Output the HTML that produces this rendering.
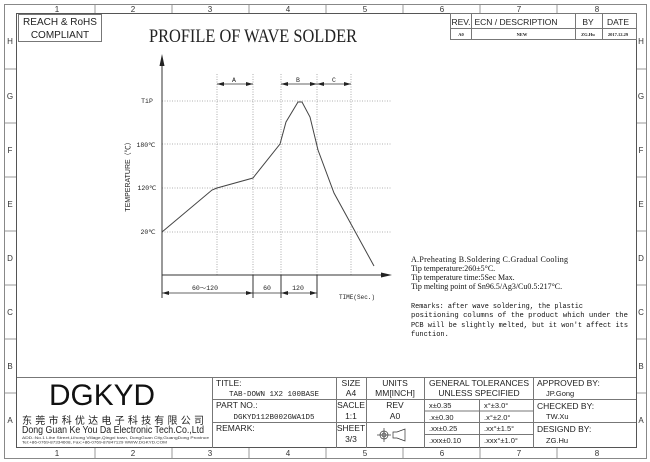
<!DOCTYPE html>
<html><head><meta charset="utf-8"><style>
html,body{margin:0;padding:0;background:#fff;}
svg{display:block}
.s{font-family:"Liberation Sans","Noto Sans CJK SC",sans-serif;}
.r{font-family:"Liberation Serif","Noto Serif CJK SC",serif;}
.m{font-family:"Liberation Mono",monospace;}
</style></head><body>
<svg width="650" height="462" viewBox="0 0 650 462" xmlns="http://www.w3.org/2000/svg">
<rect x="0" y="0" width="650" height="462" fill="#fff"/>
<g fill="none" stroke="#888" stroke-width="1">
<rect x="4.5" y="4.5" width="642" height="454"/>
<rect x="16.5" y="13.5" width="620" height="434" stroke="#555"/>
</g>
<g stroke="#999" stroke-width="1">
<line x1="95" y1="5" x2="95" y2="13"/><line x1="172" y1="5" x2="172" y2="13"/><line x1="249" y1="5" x2="249" y2="13"/><line x1="326" y1="5" x2="326" y2="13"/><line x1="403" y1="5" x2="403" y2="13"/><line x1="480" y1="5" x2="480" y2="13"/><line x1="557" y1="5" x2="557" y2="13"/>
<line x1="95" y1="448" x2="95" y2="458"/><line x1="172" y1="448" x2="172" y2="458"/><line x1="249" y1="448" x2="249" y2="458"/><line x1="326" y1="448" x2="326" y2="458"/><line x1="403" y1="448" x2="403" y2="458"/><line x1="480" y1="448" x2="480" y2="458"/><line x1="557" y1="448" x2="557" y2="458"/>
<line x1="5" y1="69" x2="16" y2="69"/><line x1="5" y1="123" x2="16" y2="123"/><line x1="5" y1="177" x2="16" y2="177"/><line x1="5" y1="231" x2="16" y2="231"/><line x1="5" y1="285" x2="16" y2="285"/><line x1="5" y1="339" x2="16" y2="339"/><line x1="5" y1="393" x2="16" y2="393"/>
<line x1="637" y1="69" x2="646" y2="69"/><line x1="637" y1="123" x2="646" y2="123"/><line x1="637" y1="177" x2="646" y2="177"/><line x1="637" y1="231" x2="646" y2="231"/><line x1="637" y1="285" x2="646" y2="285"/><line x1="637" y1="339" x2="646" y2="339"/><line x1="637" y1="393" x2="646" y2="393"/>
</g>
<g class="s" font-size="8" fill="#333" text-anchor="middle">
<text x="57" y="12">1</text><text x="133" y="12">2</text><text x="210" y="12">3</text><text x="288" y="12">4</text><text x="365" y="12">5</text><text x="442" y="12">6</text><text x="519" y="12">7</text><text x="597" y="12">8</text>
<text x="57" y="456">1</text><text x="133" y="456">2</text><text x="210" y="456">3</text><text x="288" y="456">4</text><text x="365" y="456">5</text><text x="442" y="456">6</text><text x="519" y="456">7</text><text x="597" y="456">8</text>
<text x="10" y="44">H</text><text x="10" y="99">G</text><text x="10" y="153">F</text><text x="10" y="207">E</text><text x="10" y="261">D</text><text x="10" y="315">C</text><text x="10" y="369">B</text><text x="10" y="423">A</text>
<text x="641" y="44">H</text><text x="641" y="99">G</text><text x="641" y="153">F</text><text x="641" y="207">E</text><text x="641" y="261">D</text><text x="641" y="315">C</text><text x="641" y="369">B</text><text x="641" y="423">A</text>
</g>
<rect x="18.5" y="14.5" width="83" height="27" fill="none" stroke="#777"/>
<text class="s" x="60" y="25" font-size="10" text-anchor="middle" fill="#222">REACH &amp; RoHS</text>
<text class="s" x="60" y="38" font-size="10" text-anchor="middle" fill="#222">COMPLIANT</text>
<text class="r" x="253" y="42" font-size="19" text-anchor="middle" fill="#222" textLength="208" lengthAdjust="spacingAndGlyphs">PROFILE OF WAVE SOLDER</text>
<g fill="none" stroke="#777"><rect x="450.5" y="13.5" width="186" height="26"/>
<line x1="450" y1="28.5" x2="636" y2="28.5"/><line x1="471.5" y1="14" x2="471.5" y2="40"/><line x1="575.5" y1="14" x2="575.5" y2="40"/><line x1="602.5" y1="14" x2="602.5" y2="40"/></g>
<g class="s" font-size="8.5" fill="#222" text-anchor="middle"><text x="461" y="25">REV.</text><text x="516" y="25">ECN / DESCRIPTION</text><text x="588" y="25">BY</text><text x="618" y="25">DATE</text></g>
<g class="r" font-size="4.5" fill="#222" text-anchor="middle" font-weight="bold"><text x="461" y="36">A0</text><text x="522" y="36">NEW</text><text x="588" y="36">ZG.Hu</text><text x="618" y="36">2017.12.29</text></g>
<g stroke="#999" stroke-width="0.8" stroke-dasharray="1,1.5" fill="none">
<line x1="162" y1="101" x2="392" y2="101"/><line x1="162" y1="144" x2="392" y2="144"/><line x1="162" y1="188" x2="392" y2="188"/><line x1="162" y1="232" x2="392" y2="232"/>
<line x1="217" y1="74" x2="217" y2="275"/><line x1="253" y1="74" x2="253" y2="275"/><line x1="281" y1="74" x2="281" y2="275"/><line x1="317" y1="74" x2="317" y2="275"/><line x1="351" y1="74" x2="351" y2="275"/>
</g>
<g stroke="#333" stroke-width="1" fill="none">
<line x1="162" y1="60" x2="162" y2="298"/><line x1="162" y1="275" x2="386" y2="275"/>
<line x1="253" y1="275" x2="253" y2="298"/><line x1="281" y1="275" x2="281" y2="298"/><line x1="317" y1="275" x2="317" y2="298"/>
<polyline points="162,232 212,190 217,188 253,178 280,144 286,122 298,102 302,102 310,117 318,150 334,193 374,266" stroke="#444"/>
<line x1="217" y1="84" x2="253" y2="84" stroke-width="0.7"/><line x1="281" y1="84" x2="351" y2="84" stroke-width="0.7"/>
<line x1="162" y1="293" x2="317" y2="293" stroke-width="0.7"/>
</g>
<g fill="#222">
<polygon points="162,54 159.5,66 164.5,66"/><polygon points="392,275 381,272.5 381,277.5"/>
<polygon points="217,84 224,82 224,86"/><polygon points="253,84 246,82 246,86"/>
<polygon points="281,84 288,82 288,86"/><polygon points="317,84 310,82 310,86"/><polygon points="317,84 324,82 324,86"/><polygon points="351,84 344,82 344,86"/>
<polygon points="162,293 169,291 169,295"/><polygon points="253,293 246,291 246,295"/><polygon points="281,293 288,291 288,295"/><polygon points="317,293 310,291 310,295"/>
</g>
<g class="m" font-size="6.5" fill="#222" text-anchor="middle">
<text x="234" y="82">A</text><text x="298" y="82">B</text><text x="334" y="82">C</text>
<text x="147" y="103">TiP</text><text x="146" y="147">180℃</text><text x="147" y="190">120℃</text><text x="148" y="234">20℃</text>
<text x="205" y="290">60～120</text><text x="267" y="290">60</text><text x="298" y="290">120</text>
<text x="357" y="299" font-size="6">TIME(Sec.)</text>
</g>
<text class="s" transform="translate(130,175) rotate(-90)" font-size="7" text-anchor="middle" fill="#222">TEMPERATURE（℃）</text>
<g class="r" font-size="8" fill="#111">
<text x="411" y="262" textLength="157" lengthAdjust="spacing">A.Preheating  B.Soldering  C.Gradual Cooling</text>
<text x="411" y="271">Tip temperature:260±5°C.</text>
<text x="411" y="280">Tip temperature time:5Sec Max.</text>
<text x="411" y="289">Tip melting point of Sn96.5/Ag3/Cu0.5:217°C.</text>
</g>
<g class="m" font-size="7" fill="#111">
<text x="411" y="308" textLength="172" lengthAdjust="spacingAndGlyphs">Remarks: after wave soldering, the plastic</text>
<text x="411" y="317" textLength="217" lengthAdjust="spacingAndGlyphs">positioning columns of the product  which under the</text>
<text x="411" y="327" textLength="217" lengthAdjust="spacingAndGlyphs">PCB will be slightly melted, but it won't affect its</text>
<text x="411" y="336">function.</text>
</g>
<g fill="none" stroke="#777">
<line x1="17" y1="377.5" x2="636" y2="377.5"/>
<line x1="212.5" y1="377" x2="212.5" y2="448"/><line x1="336.5" y1="377" x2="336.5" y2="448"/><line x1="366.5" y1="377" x2="366.5" y2="448"/><line x1="424.5" y1="377" x2="424.5" y2="448"/><line x1="533.5" y1="377" x2="533.5" y2="448"/><line x1="479.5" y1="399" x2="479.5" y2="448"/>
<line x1="212" y1="399.5" x2="636" y2="399.5"/><line x1="212" y1="422.5" x2="636" y2="422.5"/>
<line x1="424" y1="411" x2="533" y2="411"/><line x1="424" y1="434.5" x2="533" y2="434.5"/>
</g>
<text class="s" x="102" y="405" font-size="30" text-anchor="middle" fill="#111" textLength="106" lengthAdjust="spacingAndGlyphs">DGKYD</text>
<text class="s" x="113" y="424" font-size="10" text-anchor="middle" fill="#222" textLength="182" lengthAdjust="spacing">东莞市科优达电子科技有限公司</text>
<text class="s" x="113" y="433" font-size="10" text-anchor="middle" fill="#222" textLength="182" lengthAdjust="spacingAndGlyphs">Dong Guan Ke You Da Electronic Tech.Co.,Ltd</text>
<text class="s" x="22" y="439" font-size="3.6" fill="#333" textLength="187" lengthAdjust="spacingAndGlyphs">ADD.:No.1 Lihe Street,Lihong Village,Qingxi town, DongGuan City,GuangDong Province</text>
<text class="s" x="22" y="443.5" font-size="3.6" fill="#333" textLength="145" lengthAdjust="spacingAndGlyphs">Tel:+86-0769-87334608, Fax:+86-0769-87847129  WWW.DGKYD.COM</text>
<g class="s" font-size="8.5" fill="#222">
<text x="216" y="386">TITLE:</text><text x="216" y="408">PART NO.:</text><text x="216" y="431">REMARK:</text>
<text x="351" y="386" text-anchor="middle">SIZE</text><text x="351" y="396" text-anchor="middle">A4</text>
<text x="351" y="408" text-anchor="middle">SACLE</text><text x="351" y="419" text-anchor="middle">1:1</text>
<text x="351" y="431" text-anchor="middle">SHEET</text><text x="351" y="442" text-anchor="middle">3/3</text>
<text x="395" y="386" text-anchor="middle">UNITS</text><text x="395" y="396" text-anchor="middle">MM[INCH]</text>
<text x="395" y="408" text-anchor="middle">REV</text><text x="395" y="419" text-anchor="middle">A0</text>
<text x="479" y="386" text-anchor="middle">GENERAL TOLERANCES</text><text x="479" y="396" text-anchor="middle">UNLESS SPECIFIED</text>
<text x="429" y="408" font-size="7.5">x±0.35</text><text x="429" y="420" font-size="7.5">.x±0.30</text><text x="429" y="431" font-size="7.5">.xx±0.25</text><text x="429" y="443" font-size="7.5">.xxx±0.10</text>
<text x="484" y="408" font-size="7.5">x°±3.0°</text><text x="484" y="420" font-size="7.5">.x°±2.0°</text><text x="484" y="431" font-size="7.5">.xx°±1.5°</text><text x="484" y="443" font-size="7.5">.xxx°±1.0°</text>
<text x="537" y="386">APPROVED BY:</text><text x="546" y="396" font-size="7.5">JP.Gong</text>
<text x="537" y="409">CHECKED BY:</text><text x="546" y="419" font-size="7.5">TW.Xu</text>
<text x="537" y="432">DESIGND BY:</text><text x="546" y="443" font-size="7.5">ZG.Hu</text>
</g>
<g class="m" font-size="7.5" fill="#222" text-anchor="middle"><text x="274" y="396">TAB-DOWN 1X2 100BASE</text><text x="274" y="419">DGKYD112B002GWA1D5</text></g>
<g fill="none" stroke="#333" stroke-width="0.7">
<circle cx="384" cy="435" r="4"/><circle cx="384" cy="435" r="2"/><line x1="377" y1="435" x2="391" y2="435"/><line x1="384" y1="428" x2="384" y2="442"/>
<polygon points="393,432 397,432 405,429 405,441 397,438 393,438"/>
</g>
</svg>
</body></html>
